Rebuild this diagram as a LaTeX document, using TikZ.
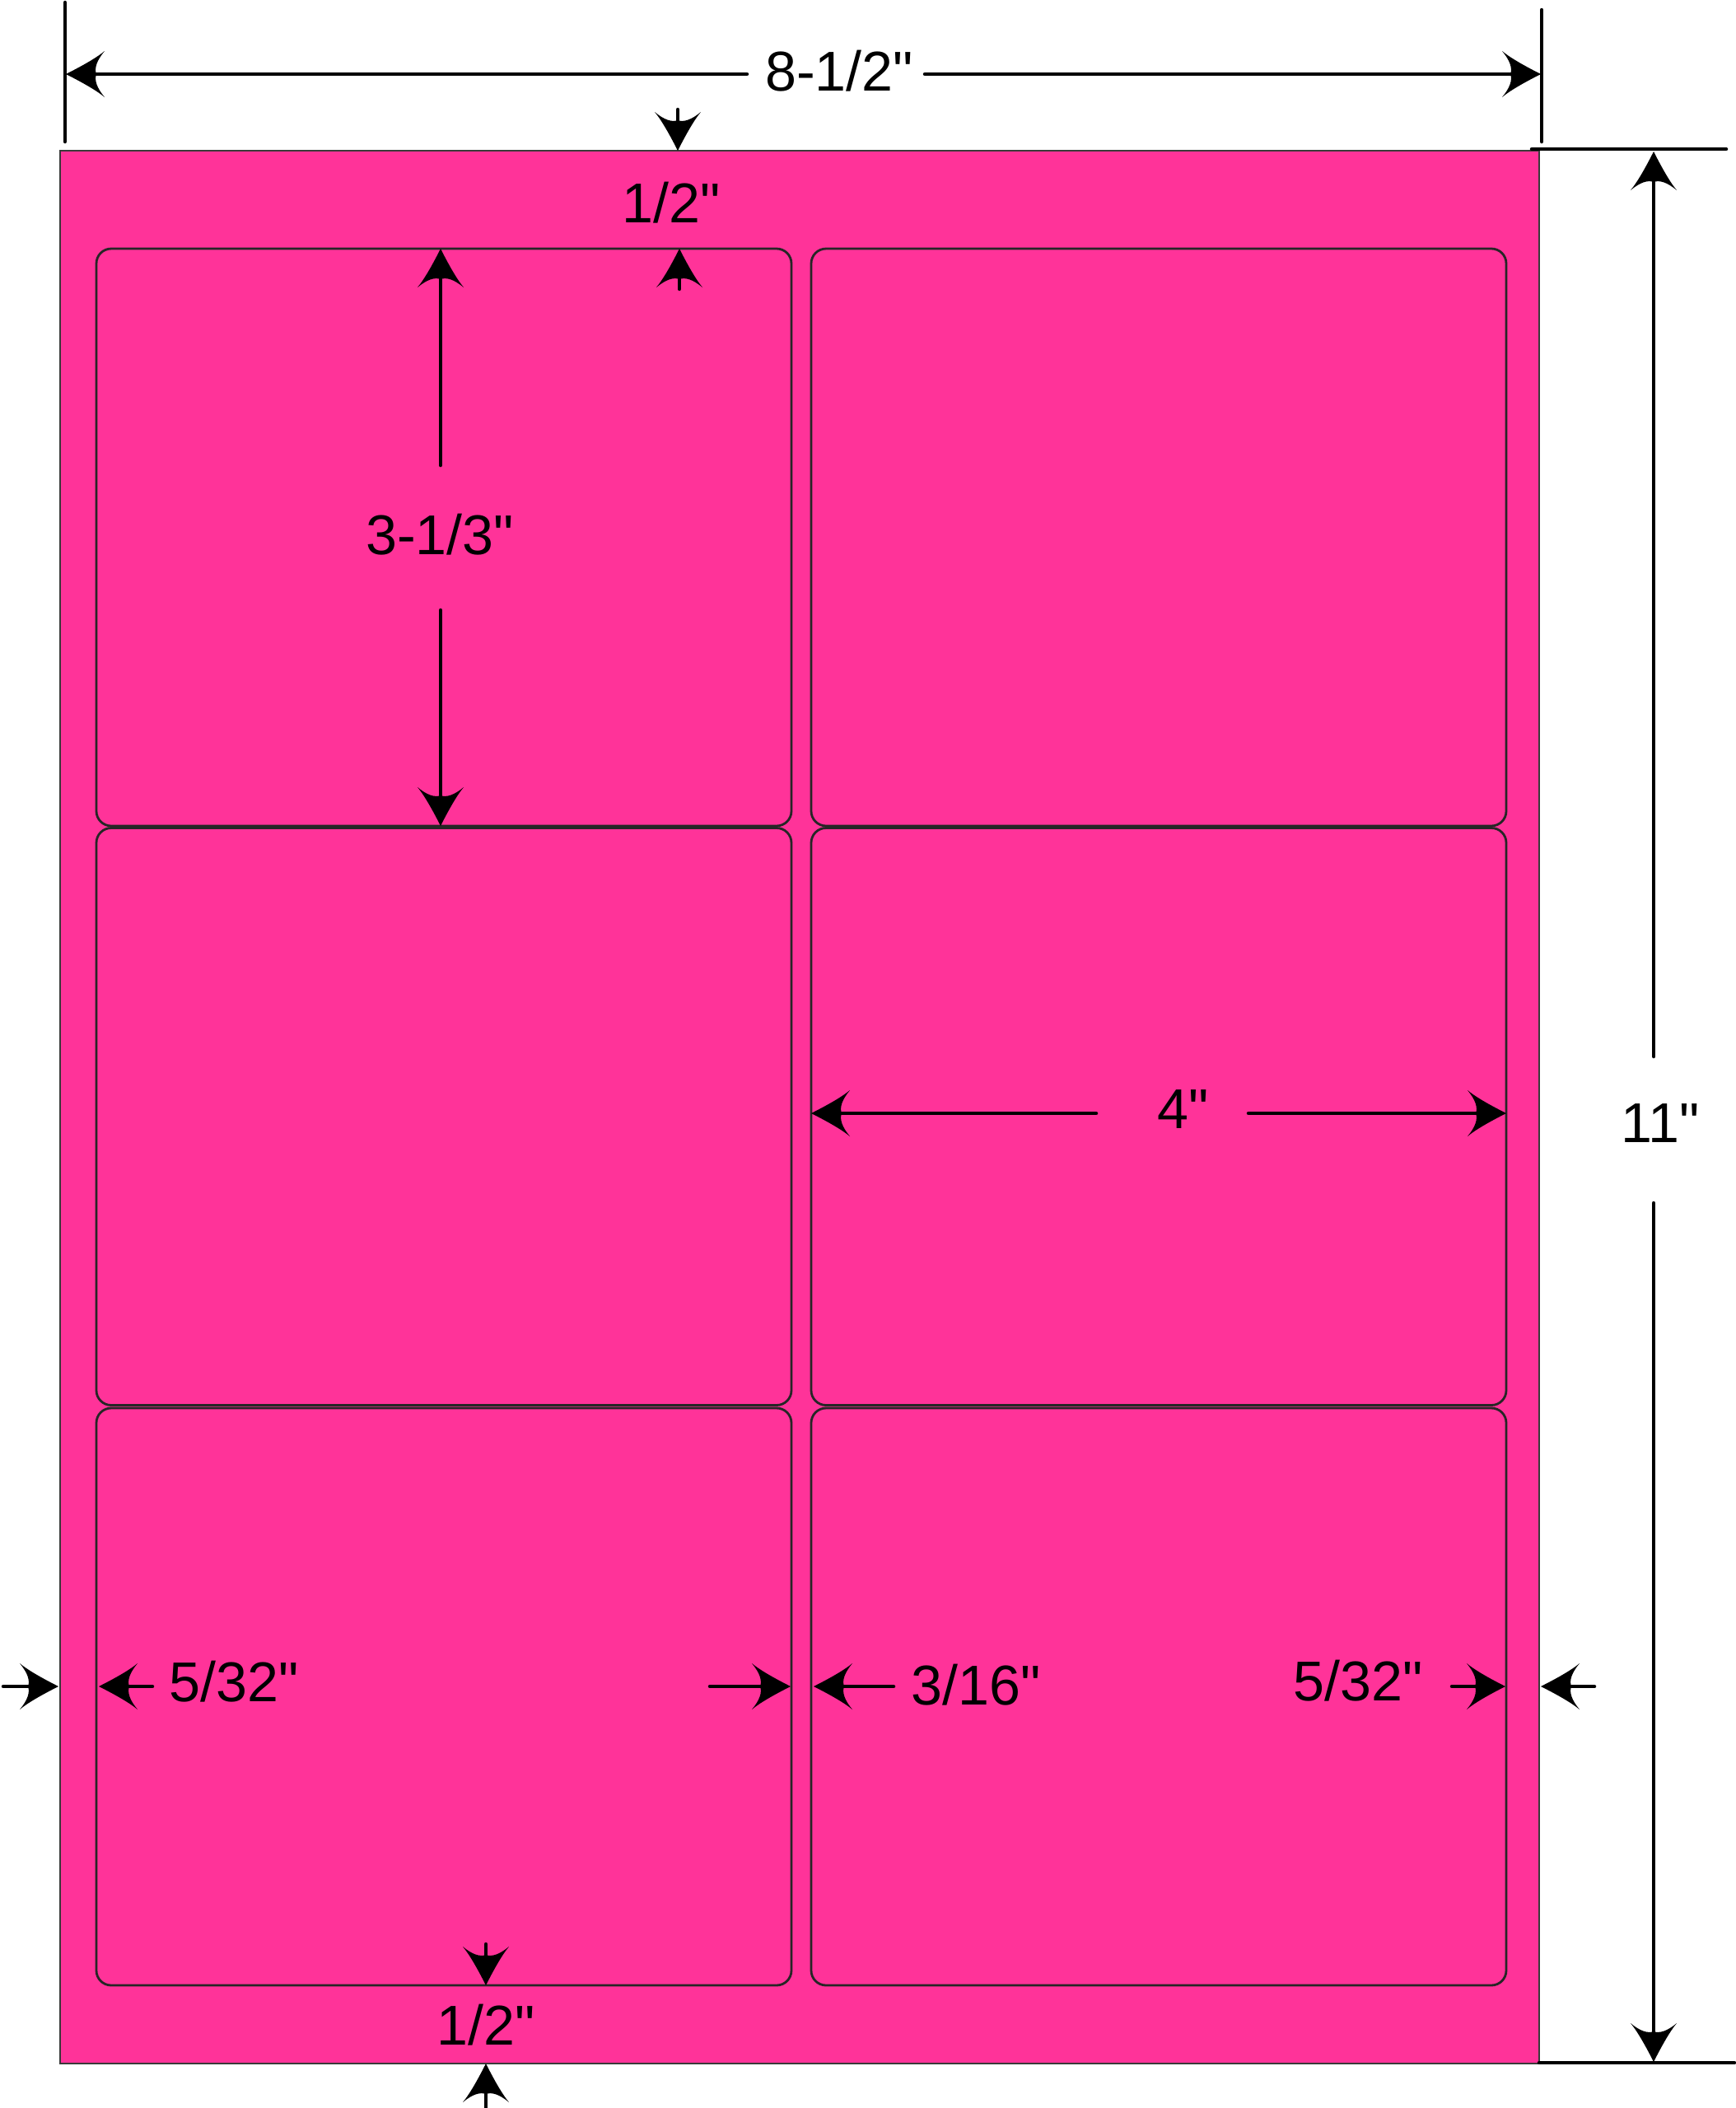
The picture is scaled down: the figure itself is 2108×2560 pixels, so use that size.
\documentclass[tikz,border=0pt]{standalone}
\usepackage{fontspec}
\newfontfamily\dimfont{Liberation Sans}
\usetikzlibrary{arrows.meta}

\pgfdeclarearrow{
  name = Barb,
  parameters = {\the\pgfarrowlength,\the\pgfarrowwidth,\the\pgfarrowinset},
  setup code = {
    \pgfarrowssettipend{0pt}
    \pgfarrowssetlineend{-0.5\pgfarrowlength}
    \pgfarrowssetbackend{-\pgfarrowlength}
    \pgfarrowshullpoint{0pt}{0pt}
    \pgfarrowsupperhullpoint{-\pgfarrowlength}{.5\pgfarrowwidth}
    \pgfarrowssavethe\pgfarrowlength
    \pgfarrowssavethe\pgfarrowwidth
    \pgfarrowssavethe\pgfarrowinset
  },
  drawing code = {
    \pgfpathmoveto{\pgfpointorigin}
    \pgfpathcurveto{\pgfpoint{-.45\pgfarrowlength}{.19\pgfarrowwidth}}{\pgfpoint{-.8\pgfarrowlength}{.36\pgfarrowwidth}}{\pgfpoint{-\pgfarrowlength}{.5\pgfarrowwidth}}
    \pgfpathquadraticcurveto{\pgfpoint{-\pgfarrowlength+1.4\pgfarrowinset}{.2\pgfarrowwidth}}{\pgfpoint{-\pgfarrowlength+\pgfarrowinset}{0pt}}
    \pgfpathquadraticcurveto{\pgfpoint{-\pgfarrowlength+1.4\pgfarrowinset}{-.2\pgfarrowwidth}}{\pgfpoint{-\pgfarrowlength}{-.5\pgfarrowwidth}}
    \pgfpathcurveto{\pgfpoint{-.8\pgfarrowlength}{-.36\pgfarrowwidth}}{\pgfpoint{-.45\pgfarrowlength}{-.19\pgfarrowwidth}}{\pgfpointorigin}
    \pgfpathclose
    \pgfusepathqfill
  },
  defaults = {length = 4.7mm, width = 5.6mm, inset = 1.0mm}
}

\definecolor{hotpink}{HTML}{FF3399}
\definecolor{edgegray}{HTML}{3A3A3A}
\definecolor{lblgray}{HTML}{262626}

\tikzset{
  dimline/.style={line width=0.45mm, line cap=round, -{Barb}},
  extline/.style={line width=0.45mm, line cap=round},
  sheetbox/.style={draw=edgegray, line width=0.2mm, fill=hotpink, inner sep=0pt,
    minimum width=179.6mm, minimum height=232.3mm},
  lbl/.style={draw=lblgray, line width=0.28mm, rounded corners=1.8mm, inner sep=0pt,
    minimum width=84.4mm, minimum height=70.1mm},
  dimtext/.style={font=\dimfont\fontsize{19.4pt}{23pt}\selectfont, inner sep=0pt},
}

\begin{document}
\begin{tikzpicture}[x=0.1mm, y=-0.1mm]
\useasboundingbox (0,0) rectangle (2108,2560);

% sheet and labels
\node[sheetbox] (S) at (971,1344.5) {};
\node[lbl] (L11) at (539,652.5) {};
\node[lbl] (L21) at (539,1356) {};
\node[lbl] (L31) at (539,2060.5) {};
\node[lbl] (L12) at (1407,652.5) {};
\node[lbl] (L22) at (1407,1356) {};
\node[lbl] (L32) at (1407,2060.5) {};

% texts
\node[dimtext] (tW)   at (1019,86)   {8-1/2"};
\node[dimtext] (tT)   at (815,246)   {1/2"};
\node[dimtext] (tH)   at (534,649)   {3-1/3"};
\node[dimtext] (tLW)  at (1437,1347) {4"};
\node[dimtext] (tSH)  at (2016,1364) {11"};
\node[dimtext] (tML)  at (284,2042)  {5/32"};
\node[dimtext] (tGap) at (1185,2046) {3/16"};
\node[dimtext] (tMR)  at (1649,2041) {5/32"};
\node[dimtext] (tB)   at (590,2459)  {1/2"};

% coordinates
\coordinate (exL1) at (79,3);     \coordinate (exL2) at (79,172);
\coordinate (exR1) at (1872,12);  \coordinate (exR2) at (1872,172);
\coordinate (wTipL) at (80,90);   \coordinate (wEndL) at (907,90);
\coordinate (wEndR) at (1123,90); \coordinate (wTipR) at (1871,90);
\coordinate (tT1) at (823,133);   \coordinate (tT2) at (823,183);
\coordinate (tT3) at (825,351);   \coordinate (tT4) at (825,302);
\coordinate (h1) at (535,565);    \coordinate (h2) at (535,302);
\coordinate (h3) at (535,741);    \coordinate (h4) at (535,1003);
\coordinate (lw1) at (1331,1352); \coordinate (lw2) at (985,1352);
\coordinate (lw3) at (1516,1352); \coordinate (lw4) at (1829,1352);
\coordinate (exT1) at (1860,181); \coordinate (exT2) at (2096,181);
\coordinate (exB1) at (1869,2505);\coordinate (exB2) at (2106,2505);
\coordinate (sh1) at (2008,1283); \coordinate (sh2) at (2008,184);
\coordinate (sh3) at (2008,1461); \coordinate (sh4) at (2008,2504);
\coordinate (m1) at (4,2048);     \coordinate (m2) at (71,2048);
\coordinate (m3) at (185,2048);   \coordinate (m4) at (120,2048);
\coordinate (m5) at (862,2048);   \coordinate (m6) at (960,2048);
\coordinate (m7) at (1085,2048);  \coordinate (m8) at (988,2048);
\coordinate (m9) at (1763,2048);  \coordinate (m10) at (1828,2048);
\coordinate (m11) at (1936,2048); \coordinate (m12) at (1871,2048);
\coordinate (b1) at (590,2361);   \coordinate (b2) at (590,2411);
\coordinate (b3) at (590,2560);   \coordinate (b4) at (590,2506);

% extension lines
\draw[extline] (exL1) -- (exL2);
\draw[extline] (exR1) -- (exR2);
\draw[extline] (exT1) -- (exT2);
\draw[extline] (exB1) -- (exB2);

% dimension lines
\draw[dimline] (wEndL) -- (wTipL);
\draw[dimline] (wEndR) -- (wTipR);
\draw[dimline] (tT1) -- (tT2);
\draw[dimline] (tT3) -- (tT4);
\draw[dimline] (h1) -- (h2);
\draw[dimline] (h3) -- (h4);
\draw[dimline] (lw1) -- (lw2);
\draw[dimline] (lw3) -- (lw4);
\draw[dimline] (sh1) -- (sh2);
\draw[dimline] (sh3) -- (sh4);
\draw[dimline] (m1) -- (m2);
\draw[dimline] (m3) -- (m4);
\draw[dimline] (m5) -- (m6);
\draw[dimline] (m7) -- (m8);
\draw[dimline] (m9) -- (m10);
\draw[dimline] (m11) -- (m12);
\draw[dimline] (b1) -- (b2);
\draw[dimline] (b3) -- (b4);
\end{tikzpicture}
\end{document}
